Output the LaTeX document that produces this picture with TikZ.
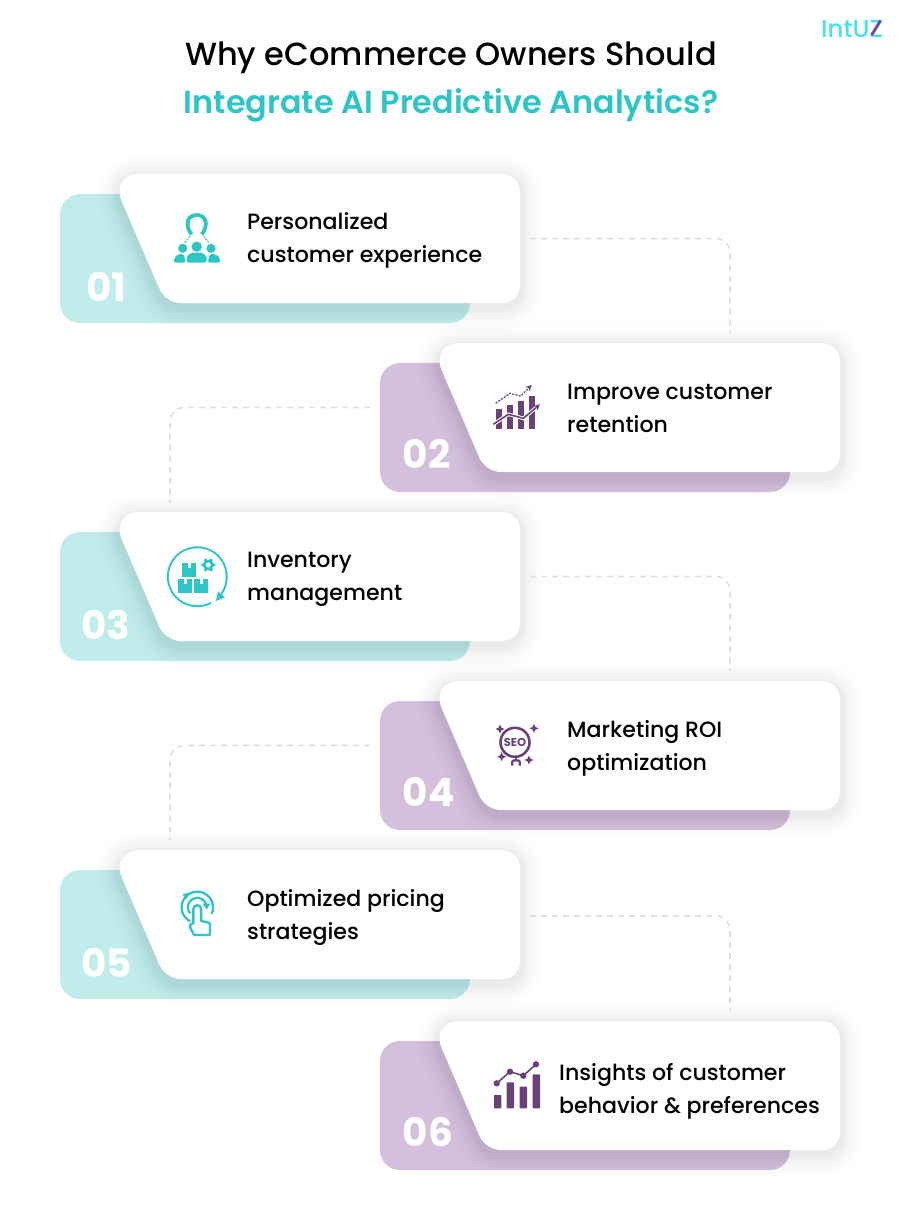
\documentclass[tikz,border=0pt]{standalone}
\usepackage{fontspec}
\setmainfont{Poppins}
\newfontfamily\medfont{Poppins Medium}
\newfontfamily\semifont{Poppins SemiBold}
\newfontfamily\boldfont{Poppins}[UprightFont=* Bold]
\usetikzlibrary{arrows.meta,calc}
\definecolor{tealband}{HTML}{C1ECEC}
\definecolor{purpband}{HTML}{D4BFDC}
\definecolor{tealink}{HTML}{2DC5C5}
\definecolor{purpink}{HTML}{6B4278}
\definecolor{dashgrey}{HTML}{E0E0E0}
\definecolor{logocyan}{HTML}{45E3E8}
\definecolor{logopurp}{HTML}{7B3FA0}
\tikzset{
  band/.style={rounded corners=20pt,fill=#1},
  conn/.style={draw=dashgrey,line width=1.6pt,dash pattern=on 6pt off 5pt,rounded corners=14pt},
  boxanchor/.style={minimum width=400pt,minimum height=129pt,inner sep=0pt,outer sep=0pt},
  bandanchor/.style={minimum width=410pt,minimum height=129pt,inner sep=0pt,outer sep=0pt},
  numtext/.style={text=white,inner sep=0pt,anchor=base west,font=\boldfont\fontsize{39}{39}\selectfont},
  bodytext/.style={text=black,inner sep=0pt,anchor=west,align=left,font=\medfont\fontsize{22.1}{33}\selectfont},
  titletext/.style={inner sep=0pt,anchor=base},
  ticon/.style={fill=tealink},
  picon/.style={fill=purpink},
}
\newcommand{\cardoutline}[2]{[rounded corners=30pt] ({#1-10},{#2}) [rounded corners=18pt] -- ({#1+400},{#2}) -- ({#1+400},{#2+129}) [rounded corners=15pt] -- ({#1+45.6},{#2+129}) [rounded corners=30pt] -- cycle}
% id, card x, card y, band colour, number, number offset, text offset, text
\newcommand{\carditem}[8]{
  \fill[band=#4] ({#2-60},{#3+20}) rectangle ({#2+350},{#3+149});
  \node[bandanchor] (b#1) at ({#2+145},{#3+84.5}) {};
  \foreach \w in {46,38,32,26,22,18,15,12,10,8}{
    \path[draw=black,draw opacity=.008,line width=\w pt,line join=round,shift={(0,4)}] \cardoutline{#2}{#3};
  }
  \fill[white] \cardoutline{#2}{#3};
  \node[boxanchor] (c#1) at ({#2+200},{#3+64.5}) {};
  \node[numtext] (n#1) at ([shift={(#2,#3)}]#6) {#5};
  \node[bodytext] (t#1) at ([shift={(#2,#3)}]#7) {#8};
}
\begin{document}
\begin{tikzpicture}[x=1pt,y=-1pt]
\useasboundingbox (0,0) rectangle (900,1211);
\fill[white] (0,0) rectangle (900,1211);

% title
\node[titletext,text=black,font=\medfont\fontsize{32}{32}\selectfont] (title1) at (451,65) {Why eCommerce Owners Should};
\node[titletext,text=tealink,font=\semifont\fontsize{31.85}{32}\selectfont] (title2) at (451,113) {Integrate AI Predictive Analytics?};

% logo
\node[inner sep=0pt,anchor=base west,text=logocyan,font=\medfont\fontsize{24.5}{25}\selectfont] (logo) at (821,37) {IntUZ};
\draw[logopurp,line width=2.6pt] ([xshift=-3pt,yshift=16.5pt]logo.base east) -- ([xshift=-12pt,yshift=2pt]logo.base east);

% cards
\carditem{1}{120}{174}{tealband}{01}{-34,127}{127,66}{Personalized\\customer experience}
\carditem{2}{440}{343}{purpband}{02}{-37.5,125}{127,65}{Improve customer\\retention}
\carditem{3}{120}{512}{tealband}{03}{-39,127}{127,67}{Inventory\\management}
\carditem{4}{440}{681}{purpband}{04}{-37.5,125}{127,67}{Marketing ROI\\optimization}
\carditem{5}{120}{850}{tealband}{05}{-39,127}{127,67}{Optimized pricing\\strategies}
\carditem{6}{440}{1021}{purpband}{06}{-37.5,125}{119,70}{Insights of customer\\behavior \& preferences}

% connectors
\draw[conn] ([xshift=10pt]c1.east) -| ([xshift=90pt,yshift=10pt]c2.north);
\draw[conn] ([xshift=-70pt]c2.west) -| ([xshift=-150pt,yshift=9pt]c3.north);
\draw[conn] ([xshift=10pt]c3.east) -| ([xshift=90pt,yshift=10pt]c4.north);
\draw[conn] ([xshift=-70pt]c4.west) -| ([xshift=-150pt,yshift=10pt]c5.north);
\draw[conn] ([xshift=10pt,yshift=-1.5pt]c5.east) -| ([xshift=90pt,yshift=10pt]c6.north);

% icon 1: people
\draw[tealink,line width=3.8pt] (191.5,234.5) .. controls (184,224) and (188,215) .. (196.7,215) .. controls (205.4,215) and (209.4,224) .. (201.9,234.5);
\draw[tealink,line width=1pt,dash pattern=on 2pt off 1.2pt] (190,236) -- (184.5,243);
\draw[tealink,line width=1pt,dash pattern=on 2pt off 1.2pt] (203.4,236) -- (209,243);
\fill[ticon] (196.7,246.7) circle (5.2);
\fill[ticon] (182.7,248.3) circle (4.6);
\fill[ticon] (211,248.3) circle (4.6);
\fill[ticon,rounded corners=2.5pt] (186.7,262.7) -- (186.7,256) -- (192,252.5) -- (201.5,252.5) -- (206.7,256) -- (206.7,262.7) -- cycle;
\fill[ticon,rounded corners=2pt] (174,262.7) -- (174,258) -- (178.5,254) -- (184,254) -- (185.6,262.7) -- cycle;
\fill[ticon,rounded corners=2pt] (220,262.7) -- (220,258) -- (215.5,254) -- (209.5,254) -- (207.8,262.7) -- cycle;

% icon 2: bars with arrows
\foreach \bx/\by in {495.7/409.3,506.7/405,517.7/400.7,528.7/396}{
  \fill[picon] (\bx,\by) rectangle ({\bx+6},429.3);
}
\draw[white,line width=3.6pt] (493.3,424.3) -- (508.3,414.3) -- (523.3,418.3) -- (538,406);
\draw[purpink,line width=1.6pt,-{Stealth[length=6pt,width=6pt]}] (493.3,424.3) -- (508.3,414.3) -- (523.3,418.3) -- (540,404.3);
\draw[purpink,line width=1.3pt,dash pattern=on 2pt off 1.3pt,-{Stealth[length=6pt,width=6pt]}] (495.7,403.3) -- (510,393.3) -- (520.7,396) -- (531.7,385);

% icon 3: boxes and gear in cycle
\draw[tealink,line width=1.9pt] (219.9,595.7) arc[start angle=40,end angle=-298,radius=29.5];
\fill[ticon] (218.3,591.7) -- (225,597.3) -- (215.7,601) -- cycle;
\foreach \bx/\by in {182/563.3,178/579,194/579}{
  \fill[ticon] (\bx,\by) rectangle ({\bx+14},{\by+14});
  \fill[white] ({\bx+5.5},\by) rectangle ({\bx+8.5},{\by+4.5});
}
\foreach \a in {0,60,...,300}{
  \fill[ticon] (208.3,565) ++(\a:5.6) circle (1.8);
}
\fill[ticon,even odd rule] (208.3,565) circle (5.5) (208.3,565) circle (2.6);

% icon 4: seo badge
\draw[purpink,line width=2.6pt] (515,742.3) circle (14.5);
\node[inner sep=0pt,text=purpink,font=\boldfont\fontsize{11.5}{11.5}\selectfont] (seo) at (515,742.5) {SEO};
\foreach \sx/\sy in {500/729,534/728.3,501.7/756.7,529/760}{
  \fill[picon] (\sx,{\sy-4.5}) -- ({\sx+1.4},{\sy-1.4}) -- ({\sx+4.5},\sy) -- ({\sx+1.4},{\sy+1.4}) -- (\sx,{\sy+4.5}) -- ({\sx-1.4},{\sy+1.4}) -- ({\sx-4.5},\sy) -- ({\sx-1.4},{\sy-1.4}) -- cycle;
}
\draw[purpink,line width=2.6pt] (516,756) -- (516,760);
\draw[purpink,line width=2.2pt,rounded corners=1pt] (512.3,765.5) -- (512.3,760.5) -- (519.7,760.5) -- (519.7,765.5);

% icon 5: touch
\draw[tealink,line width=2.3pt] (190.2,921.3) arc[start angle=117,end angle=385,radius=15.7];
\draw[tealink,line width=2.3pt] (190,913.4) arc[start angle=140,end angle=350,radius=9.5];
\fill[ticon] (182.5,894) -- (190.5,892.5) -- (186,899.5) -- cycle;
\fill[ticon] (202.5,903.5) -- (210.5,903.5) -- (206.7,909.5) -- cycle;
\draw[tealink,line width=2.4pt,fill=white,line join=round] (193.4,923) -- (193.4,909) arc[start angle=180,end angle=360,radius=3.85] -- (201.1,921) -- (208,922.5) .. controls (210,923) .. (210,925) -- (210,933) .. controls (210,935) .. (208,935) -- (196,935) .. controls (194,935) .. (193,933) -- (190.2,927.5) .. controls (189.5,925) .. (193.4,923) -- cycle;

% icon 6: bars and dots
\foreach \bx/\by in {494/1095,506.7/1082.3,519.7/1086.7,532.7/1074.3}{
  \fill[picon,rounded corners=.7pt] (\bx,\by) rectangle ({\bx+7.3},1108.3);
}
\draw[purpink,line width=1.6pt] (496.7,1083.3) -- (510,1071.7) -- (523.3,1075.7) -- (536,1064.3);
\foreach \dx/\dy in {496.7/1083.3,510/1071.7,523.3/1075.7,536/1064.3}{
  \fill[picon] (\dx,\dy) circle (3.2);
}
\end{tikzpicture}
\end{document}
